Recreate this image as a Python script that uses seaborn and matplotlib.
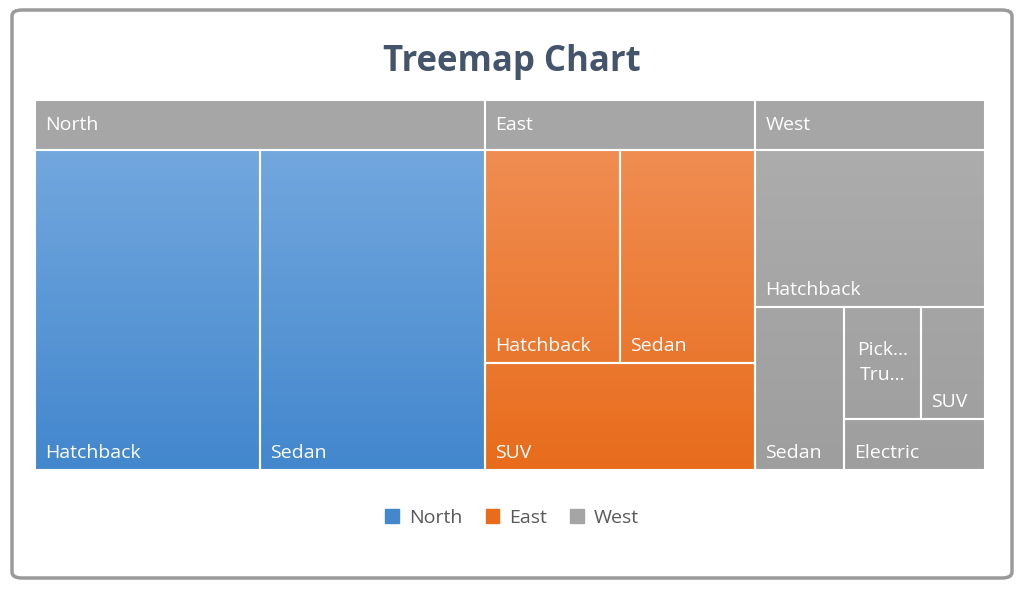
import matplotlib.pyplot as plt
import matplotlib.patches as mpatches
import numpy as np
import seaborn as sns

# data
regions = ["North", "East", "West"]
north_types = ["Hatchback", "Sedan"]
north_values = [50, 50]
east_types = ["Hatchback", "Sedan", "SUV"]
east_values = [20, 20, 20]
west_types = ["Hatchback", "Sedan", "Pickup Truck", "SUV", "Electric"]
west_values = [25, 10, 6, 5, 5]

region_colors = {"North": ("#72a7de", "#4387cd"),
                 "East": ("#f08d52", "#e86c1c"),
                 "West": ("#acacac", "#9e9e9e")}
header_color = "#a6a6a6"


def worst(row, side):
    s = sum(row)
    return max(max(side * side * r / (s * s), s * s / (side * side * r)) for r in row)


def squarify(values, x, y, w, h):
    # squarified treemap (Bruls et al.); values already scaled to area
    rects = []
    vals = list(values)
    while vals:
        side = min(w, h)
        row = [vals[0]]
        i = 1
        while i < len(vals) and worst(row + [vals[i]], side) <= worst(row, side):
            row.append(vals[i])
            i += 1
        vals = vals[i:]
        s = sum(row)
        if w >= h:  # column on the left
            cw = s / h
            cy = y
            for r in row:
                rects.append((x, cy, cw, r / cw))
                cy += r / cw
            x += cw
            w -= cw
        else:  # row on top
            rh = s / w
            cx = x
            for r in row:
                rects.append((cx, y, r / rh, rh))
                cx += r / rh
            y += rh
            h -= rh
    return rects


def scaled(vals, w, h):
    t = sum(vals)
    return [v / t * w * h for v in vals]


sns.set_theme(style="white")
plt.rcParams['font.family'] = ['Open Sans', 'DejaVu Sans']

fig = plt.figure(figsize=(10.24, 5.93), dpi=100)
fig.patch.set_facecolor("white")
fig.patches.append(mpatches.FancyBboxPatch((12 / 1024, 15 / 593), 1000 / 1024, 568 / 593,
                                           boxstyle="round,pad=0,rounding_size=0.01",
                                           transform=fig.transFigure, facecolor="white",
                                           edgecolor="#9a9a9a", linewidth=2.5, zorder=-1))

W, H, HEAD = 950.0, 370.0, 50.0
ax = fig.add_axes([35 / 1024, (593 - 470) / 593, W / 1024, H / 593])
ax.axis("off")

groups = {"North": (north_types, north_values),
          "East": (east_types, east_values),
          "West": (west_types, west_values)}
totals = [sum(groups[r][1]) for r in regions]
short = {"Pickup Truck": "Pick...\nTru..."}
fs = 14

for reg, (gx, gy, gw, gh) in zip(regions, squarify(scaled(totals, W, H), 0, 0, W, H)):
    ax.add_patch(mpatches.Rectangle((gx, gy), gw, HEAD, facecolor=header_color,
                                    edgecolor="white", linewidth=1.5, clip_on=False))
    ax.text(gx + 10, gy + HEAD / 2, reg, color="white", fontsize=fs, va="center")
    names, vals = groups[reg]
    top, bot = region_colors[reg]
    cmap = sns.blend_palette([top, bot], as_cmap=True)
    cy, ch = gy + HEAD, gh - HEAD
    for name, (x, y, w, h) in zip(names, squarify(scaled(vals, gw, ch), gx, cy, gw, ch)):
        grad = np.linspace((y - cy) / ch, (y + h - cy) / ch, 50).reshape(-1, 1)
        ax.imshow(grad, cmap=cmap, vmin=0, vmax=1, extent=(x, x + w, y + h, y),
                  aspect="auto", zorder=1)
        ax.add_patch(mpatches.Rectangle((x, y), w, h, fill=False, edgecolor="white",
                                        linewidth=1.5, zorder=2, clip_on=False))
        if name in short:
            ax.text(x + w / 2, y + h / 2, short[name], color="white", fontsize=fs,
                    ha="center", va="center", linespacing=1.5, zorder=3)
        else:
            ax.text(x + 10, y + h - 8, name, color="white", fontsize=fs,
                    ha="left", va="bottom", zorder=3)

ax.set_xlim(0, W)
ax.set_ylim(H, 0)

fig.text(0.5, 0.895, "Treemap Chart", ha="center", va="center", fontsize=25,
         fontweight="bold", color="#44546a")

handles = [mpatches.Patch(color=region_colors[r][1] if r != "West" else "#a5a5a5", label=r)
           for r in regions]
fig.legend(handles=handles, loc="center", bbox_to_anchor=(0.5, 0.127), ncol=3,
           frameon=False, fontsize=14, handlelength=0.7, handleheight=0.7,
           handletextpad=0.5, columnspacing=1.2, labelcolor="#595959")

fig.savefig("out.png", dpi=100)
